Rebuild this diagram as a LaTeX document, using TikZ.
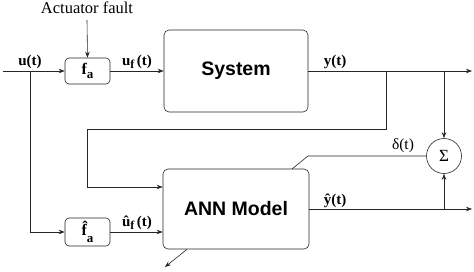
\documentclass[tikz,border=0pt]{standalone}
\usepackage{fontspec}
\setmainfont{Liberation Serif}
\newfontfamily\helv{Liberation Sans}
\usetikzlibrary{arrows.meta}
\tikzset{
  ln/.style={draw=black!85, line width=0.6pt},
  arr/.style={ln, -{Stealth[length=6pt,width=4.5pt]}},
  blk/.style={ln, rounded corners=5pt, minimum width=144pt, minimum height=82pt, font=\helv\bfseries\fontsize{19.5}{22}\selectfont, inner sep=0pt},
  small/.style={ln, rounded corners=4pt, minimum width=45pt, minimum height=26pt, inner sep=0pt, font=\bfseries\fontsize{16}{18}\selectfont},
  lbl/.style={font=\bfseries\fontsize{15}{17}\selectfont, inner sep=0pt},
  nlbl/.style={font=\fontsize{15.5}{17}\selectfont, inner sep=0pt}
}
\begin{document}
\begin{tikzpicture}[x=1pt,y=-1pt]
\useasboundingbox (0,0) rectangle (474,271);
% blocks
\node[blk] (sys) at (236,71) {System};
\node[blk, minimum width=146pt, minimum height=80pt] (ann) at (236,209) {ANN Model};
\node[small] (fa) at (87.5,71) {f\raisebox{-0.45ex}{\fontsize{13}{15}\selectfont a}};
\node[small, minimum height=28pt] (fah) at (87.5,232) {\raisebox{0.5ex}{\^{f}}\raisebox{-0.45ex}{\fontsize{13}{15}\selectfont a}};
\node[ln, circle, minimum size=35pt, inner sep=0pt, font=\fontsize{17}{19}\selectfont] (sum) at (444,156) {Σ};
\node[font=\fontsize{16.5}{18}\selectfont, inner sep=0pt] (fault) at (87,8) {Actuator fault};
% coordinates
\coordinate (in) at (3,71);
\coordinate (out1) at (472,71);
\coordinate (out2) at (472,209);
\coordinate (br1) at (30,71);
\coordinate (br2) at (386,71);
\coordinate (br3) at (444,71);
\coordinate (br4) at (444,209);
\coordinate (c1) at (386,129);
\coordinate (c2) at (87,129);
\coordinate (d1) at (292,169);
\coordinate (d2) at (308,156);
\coordinate (diag) at (165,267);
\coordinate (ftip) at (87,20);
% connectors
\draw[arr] (in) -- (fa.west);
\draw[arr] (ftip) -- (fa.north);
\draw[arr] (fa) -- (sys);
\draw[arr] (sys) -- (out1);
\draw[arr] (br1) |- (fah.west);
\draw[arr] (fah) -- (fah -| ann.west);
\draw[arr] (br2) -- (c1) -- (c2) |- ([yshift=22pt]ann.west);
\draw[ln] (d1) -- (d2) -- (sum.west);
\draw[arr] (br3) -- (sum.north);
\draw[arr] (ann) -- (out2);
\draw[arr] (br4) -- (sum.south);
\draw[arr] ([xshift=-49pt]ann.south) -- (diag);
% labels
\node[lbl] (lu) at (30,62) {u(t)};
\node[lbl] (luf) at (137,62) {u\raisebox{-0.45ex}{\fontsize{12}{14}\selectfont f}\,(t)};
\node[lbl] (ly) at (335,62) {y(t)};
\node[nlbl] (ld) at (403,146) {δ(t)};
\node[lbl] (lyh) at (335,201) {\^{y}(t)};
\node[lbl] (luh) at (137,223) {\^{u}\raisebox{-0.45ex}{\fontsize{12}{14}\selectfont f}\,(t)};
\end{tikzpicture}
\end{document}
